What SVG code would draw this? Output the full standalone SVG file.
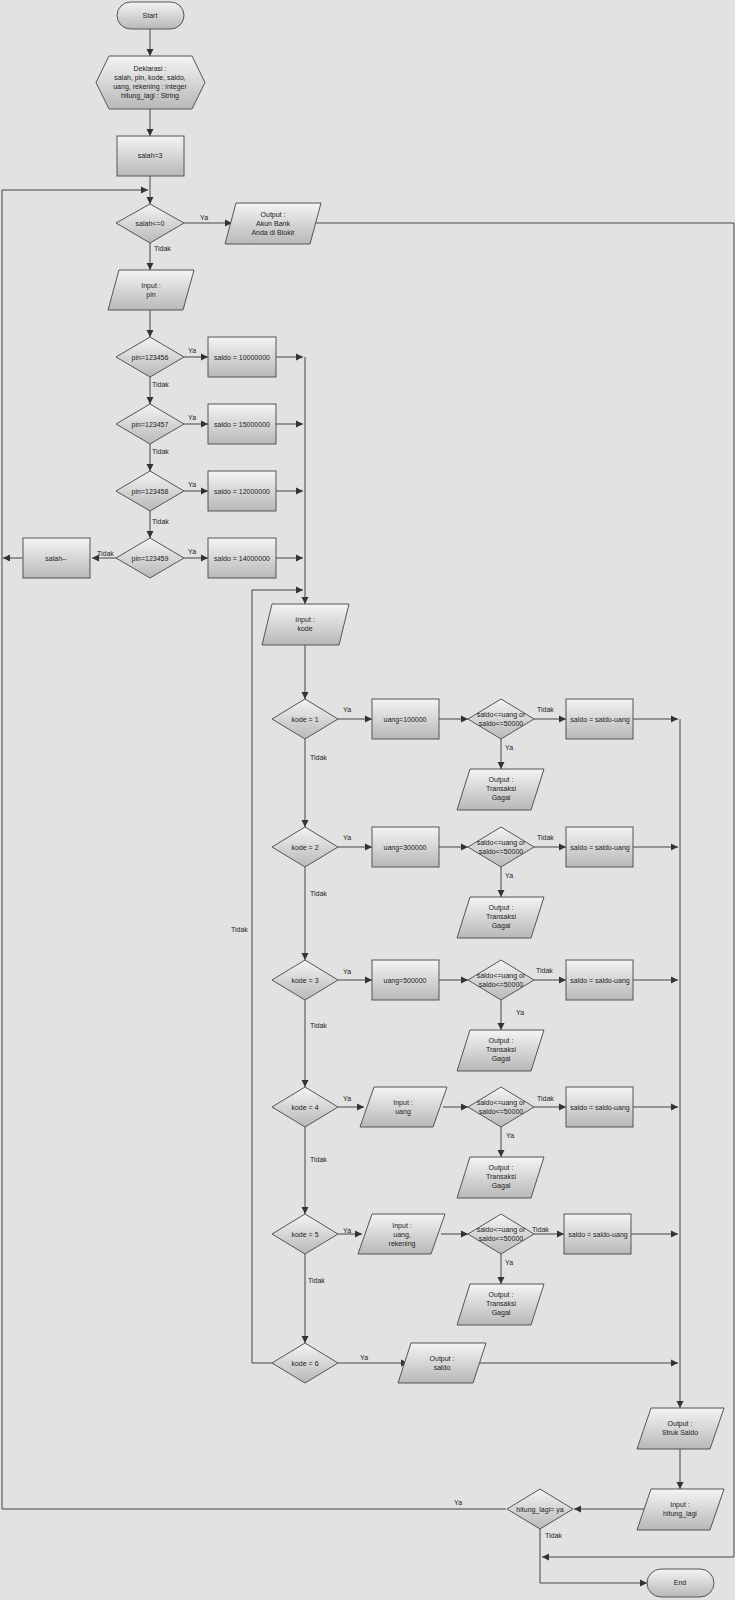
<svg xmlns="http://www.w3.org/2000/svg" width="735" height="1600" viewBox="0 0 735 1600">
<defs>
<linearGradient id="g" x1="0" y1="0" x2="0" y2="1"><stop offset="0" stop-color="#f4f4f4"/><stop offset="1" stop-color="#b8b8b8"/></linearGradient>
<marker id="a" markerWidth="8" markerHeight="8" refX="7" refY="4" orient="auto" markerUnits="userSpaceOnUse"><path d="M0,0.5 L7,4 L0,7.5 z" fill="#333"/></marker>
</defs>
<style>
.s{fill:url(#g);stroke:#555;stroke-width:1}
.c{fill:none;stroke:#444;stroke-width:1;marker-end:url(#a)}
.l{fill:none;stroke:#444;stroke-width:1}
text{font-family:"Liberation Sans",Arial,sans-serif;font-size:7px;fill:#222;text-anchor:middle}
.lb{text-anchor:start}
</style>
<rect width="735" height="1600" fill="#e2e2e2"/>
<g id="connectors">
<path class="c" d="M150,29 V56"/>
<path class="c" d="M150,109 V136"/>
<path class="c" d="M150,176 V204"/>
<path class="c" d="M2,558 V190 H148"/>
<path class="c" d="M184,223 H232"/>
<path class="c" d="M311,223 H734 V1557 H542"/>
<path class="c" d="M150,243 V270"/>
<path class="c" d="M150,310 V337"/>
<path class="c" d="M150,377 V404"/>
<path class="c" d="M150,444 V471"/>
<path class="c" d="M150,511 V538"/>
<path class="c" d="M184,357 H208"/><path class="c" d="M184,424 H208"/><path class="c" d="M184,491 H208"/><path class="c" d="M184,558 H208"/>
<path class="c" d="M276,357 H303"/><path class="c" d="M276,424 H303"/><path class="c" d="M276,491 H303"/><path class="c" d="M276,558 H303"/>
<path class="c" d="M117,558 H92"/>
<path class="c" d="M23,558 H3"/>
<path class="c" d="M305,357 V604"/>
<path class="c" d="M272,1363 H252 V590 H303"/>
<path class="c" d="M305,645 V699"/>
<path class="c" d="M305,739 V827"/>
<path class="c" d="M305,867 V960"/>
<path class="c" d="M305,1000 V1087"/>
<path class="c" d="M305,1127 V1214"/>
<path class="c" d="M305,1254 V1343"/>
<path class="c" d="M338,719 H372"/><path class="c" d="M338,847 H372"/><path class="c" d="M338,980 H372"/><path class="c" d="M338,1107 H364"/><path class="c" d="M338,1234 H362"/>
<path class="c" d="M439,719 H468"/><path class="c" d="M439,847 H468"/><path class="c" d="M439,980 H468"/><path class="c" d="M443,1107 H468"/><path class="c" d="M441,1234 H468"/>
<path class="c" d="M534,719 H566"/><path class="c" d="M534,847 H566"/><path class="c" d="M534,980 H566"/><path class="c" d="M534,1107 H566"/><path class="c" d="M534,1234 H564"/>
<path class="c" d="M501,739 V769"/><path class="c" d="M501,867 V897"/><path class="c" d="M501,1000 V1030"/><path class="c" d="M501,1127 V1157"/><path class="c" d="M501,1254 V1284"/>
<path class="c" d="M633,719 H678"/><path class="c" d="M633,847 H678"/><path class="c" d="M633,980 H678"/><path class="c" d="M633,1107 H678"/><path class="c" d="M631,1234 H678"/>
<path class="c" d="M338,1363 H408"/>
<path class="c" d="M478,1363 H678"/>
<path class="c" d="M680,719 V1408"/>
<path class="c" d="M680,1449 V1489"/>
<path class="c" d="M644,1509 H574"/>
<path class="l" d="M506,1509 H2 V558"/>
<path class="c" d="M540,1529 V1583 H647"/>
</g>
<g id="labels">
<text class="lb" x="200" y="220">Ya</text><text class="lb" x="154" y="251">Tidak</text>
<text class="lb" x="188" y="353">Ya</text><text class="lb" x="152" y="387">Tidak</text>
<text class="lb" x="188" y="420">Ya</text><text class="lb" x="152" y="454">Tidak</text>
<text class="lb" x="188" y="487">Ya</text><text class="lb" x="152" y="524">Tidak</text>
<text class="lb" x="188" y="554">Ya</text><text class="lb" x="97" y="556">Tidak</text>
<text class="lb" x="343" y="712">Ya</text><text class="lb" x="310" y="760">Tidak</text>
<text class="lb" x="343" y="840">Ya</text><text class="lb" x="310" y="896">Tidak</text>
<text class="lb" x="343" y="974">Ya</text><text class="lb" x="310" y="1028">Tidak</text>
<text class="lb" x="343" y="1101">Ya</text><text class="lb" x="310" y="1162">Tidak</text>
<text class="lb" x="343" y="1233">Ya</text><text class="lb" x="308" y="1283">Tidak</text>
<text class="lb" x="537" y="712">Tidak</text><text class="lb" x="505" y="750">Ya</text>
<text class="lb" x="537" y="840">Tidak</text><text class="lb" x="505" y="878">Ya</text>
<text class="lb" x="536" y="973">Tidak</text><text class="lb" x="516" y="1015">Ya</text>
<text class="lb" x="537" y="1101">Tidak</text><text class="lb" x="506" y="1138">Ya</text>
<text class="lb" x="532" y="1232">Tidak</text><text class="lb" x="505" y="1265">Ya</text>
<text class="lb" x="360" y="1360">Ya</text>
<text class="lb" x="231" y="932">Tidak</text>
<text class="lb" x="454" y="1505">Ya</text>
<text class="lb" x="545" y="1538">Tidak</text>
</g>
<g id="start"><rect class="s" x="117" y="2" width="67" height="27" rx="13.5"/><text x="150" y="18">Start</text></g>
<g id="deklarasi"><path class="s" d="M96,82.5 L109,56 H192 L205,82.5 L192,109 H109 z"/><text x="150" y="71">Deklarasi :</text><text x="150" y="80">salah, pin, kode, saldo,</text><text x="150" y="89">uang, rekening : integer</text><text x="150" y="98">hitung_lagi : String</text></g>
<g id="salah3"><rect class="s" x="117" y="136" width="67" height="40"/><text x="150" y="158">salah=3</text></g>
<g id="d_salah"><path class="s" d="M150,204 L184,223 L150,243 L116,223 z"/><text x="150" y="226">salah&lt;=0</text></g>
<g id="out_blokir"><path class="s" d="M236,203 H321 L310,244 H225 z"/><text x="273" y="217">Output :</text><text x="273" y="226">Akun Bank</text><text x="273" y="235">Anda di Blokir</text></g>
<g id="in_pin"><path class="s" d="M119,270 H194 L183,310 H108 z"/><text x="151" y="288">Input :</text><text x="151" y="297">pin</text></g>
<g id="d_pin1"><path class="s" d="M150,337 L184,357 L150,377 L116,357 z"/><text x="150" y="360">pin=123456</text></g>
<g id="d_pin2"><path class="s" d="M150,404 L184,424 L150,444 L116,424 z"/><text x="150" y="427">pin=123457</text></g>
<g id="d_pin3"><path class="s" d="M150,471 L184,491 L150,511 L116,491 z"/><text x="150" y="494">pin=123458</text></g>
<g id="d_pin4"><path class="s" d="M150,538 L184,558 L150,578 L116,558 z"/><text x="150" y="561">pin=123459</text></g>
<g id="saldo1"><rect class="s" x="208" y="337" width="68" height="40"/><text x="242" y="360">saldo = 10000000</text></g>
<g id="saldo2"><rect class="s" x="208" y="404" width="68" height="40"/><text x="242" y="427">saldo = 15000000</text></g>
<g id="saldo3"><rect class="s" x="208" y="471" width="68" height="40"/><text x="242" y="494">saldo = 12000000</text></g>
<g id="saldo4"><rect class="s" x="208" y="538" width="68" height="40"/><text x="242" y="561">saldo = 14000000</text></g>
<g id="salahmin"><rect class="s" x="23" y="538" width="67" height="40"/><text x="56" y="561">salah--</text></g>
<g id="in_kode"><path class="s" d="M272,604 H349 L339,645 H262 z"/><text x="305" y="622">Input :</text><text x="305" y="631">kode</text></g>

<g id="d_k1"><path class="s" d="M305,699 L338,719 L305,739 L272,719 z"/><text x="305" y="722">kode = 1</text></g>
<g id="d_k2"><path class="s" d="M305,827 L338,847 L305,867 L272,847 z"/><text x="305" y="850">kode = 2</text></g>
<g id="d_k3"><path class="s" d="M305,960 L338,980 L305,1000 L272,980 z"/><text x="305" y="983">kode = 3</text></g>
<g id="d_k4"><path class="s" d="M305,1087 L338,1107 L305,1127 L272,1107 z"/><text x="305" y="1110">kode = 4</text></g>
<g id="d_k5"><path class="s" d="M305,1214 L338,1234 L305,1254 L272,1234 z"/><text x="305" y="1237">kode = 5</text></g>
<g id="d_k6"><path class="s" d="M305,1343 L338,1363 L305,1383 L272,1363 z"/><text x="305" y="1366">kode = 6</text></g>

<g id="uang1"><rect class="s" x="372" y="699" width="67" height="40"/><text x="405" y="722">uang=100000</text></g>
<g id="uang2"><rect class="s" x="372" y="827" width="67" height="40"/><text x="405" y="850">uang=300000</text></g>
<g id="uang3"><rect class="s" x="372" y="960" width="67" height="40"/><text x="405" y="983">uang=500000</text></g>
<g id="in_uang4"><path class="s" d="M374,1087 H447 L433,1127 H360 z"/><text x="403" y="1105">Input :</text><text x="403" y="1114">uang</text></g>
<g id="in_uang5"><path class="s" d="M372,1214 H445 L431,1254 H358 z"/><text x="402" y="1228">Input :</text><text x="402" y="1237">uang,</text><text x="402" y="1246">rekening</text></g>

<g id="dc1"><path class="s" d="M501,699 L534,719 L501,739 L468,719 z"/><text x="501" y="717">saldo&lt;=uang or</text><text x="501" y="726">saldo&lt;=50000</text></g>
<g id="dc2"><path class="s" d="M501,827 L534,847 L501,867 L468,847 z"/><text x="501" y="845">saldo&lt;=uang or</text><text x="501" y="854">saldo&lt;=50000</text></g>
<g id="dc3"><path class="s" d="M501,960 L534,980 L501,1000 L468,980 z"/><text x="501" y="978">saldo&lt;=uang or</text><text x="501" y="987">saldo&lt;=50000</text></g>
<g id="dc4"><path class="s" d="M501,1087 L534,1107 L501,1127 L468,1107 z"/><text x="501" y="1105">saldo&lt;=uang or</text><text x="501" y="1114">saldo&lt;=50000</text></g>
<g id="dc5"><path class="s" d="M501,1214 L534,1234 L501,1254 L468,1234 z"/><text x="501" y="1232">saldo&lt;=uang or</text><text x="501" y="1241">saldo&lt;=50000</text></g>

<g id="sal1"><rect class="s" x="566" y="699" width="67" height="40"/><text x="600" y="722">saldo = saldo-uang</text></g>
<g id="sal2"><rect class="s" x="566" y="827" width="67" height="40"/><text x="600" y="850">saldo = saldo-uang</text></g>
<g id="sal3"><rect class="s" x="566" y="960" width="67" height="40"/><text x="600" y="983">saldo = saldo-uang</text></g>
<g id="sal4"><rect class="s" x="566" y="1087" width="67" height="40"/><text x="600" y="1110">saldo = saldo-uang</text></g>
<g id="sal5"><rect class="s" x="564" y="1214" width="67" height="40"/><text x="598" y="1237">saldo = saldo-uang</text></g>

<g id="gagal1"><path class="s" d="M470,769 H544 L531,810 H457 z"/><text x="501" y="782">Output :</text><text x="501" y="791">Transaksi</text><text x="501" y="800">Gagal</text></g>
<g id="gagal2"><path class="s" d="M470,897 H544 L531,938 H457 z"/><text x="501" y="910">Output :</text><text x="501" y="919">Transaksi</text><text x="501" y="928">Gagal</text></g>
<g id="gagal3"><path class="s" d="M470,1030 H544 L531,1071 H457 z"/><text x="501" y="1043">Output :</text><text x="501" y="1052">Transaksi</text><text x="501" y="1061">Gagal</text></g>
<g id="gagal4"><path class="s" d="M470,1157 H544 L531,1198 H457 z"/><text x="501" y="1170">Output :</text><text x="501" y="1179">Transaksi</text><text x="501" y="1188">Gagal</text></g>
<g id="gagal5"><path class="s" d="M470,1284 H544 L531,1325 H457 z"/><text x="501" y="1297">Output :</text><text x="501" y="1306">Transaksi</text><text x="501" y="1315">Gagal</text></g>

<g id="out_saldo"><path class="s" d="M411,1343 H486 L473,1383 H398 z"/><text x="442" y="1361">Output :</text><text x="442" y="1370">saldo</text></g>
<g id="out_struk"><path class="s" d="M651,1408 H724 L710,1449 H637 z"/><text x="680" y="1426">Output :</text><text x="680" y="1435">Struk Saldo</text></g>
<g id="in_hitung"><path class="s" d="M651,1489 H724 L710,1530 H637 z"/><text x="680" y="1507">Input :</text><text x="680" y="1516">hitung_lagi</text></g>
<g id="d_hitung"><path class="s" d="M540,1489 L573,1509 L540,1529 L507,1509 z"/><text x="540" y="1512">hitung_lagi= ya</text></g>
<g id="end"><rect class="s" x="647" y="1569" width="67" height="28" rx="14"/><text x="680" y="1585">End</text></g>
</svg>
